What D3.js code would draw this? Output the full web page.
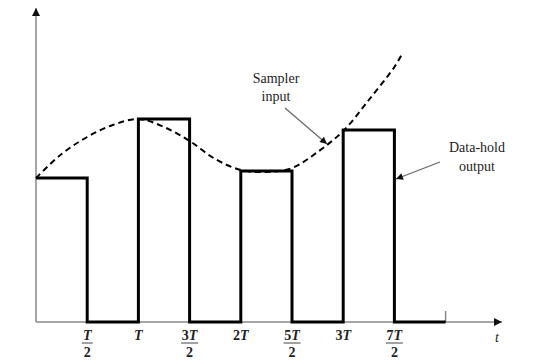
<!DOCTYPE html>
<html>
<head>
<meta charset="utf-8">
<script src="https://cdn.jsdelivr.net/npm/d3@7"></script>
<style>
  body { margin: 0; background: #fff; }
  text { font-family: "Liberation Serif", "DejaVu Serif", serif; }
</style>
</head>
<body>
<div id="chart"></div>
<script>
// held sample values (one per period T), shown for half a period
var sampleTimes = [0, 1, 2, 3];
var heldValues = [1.44, 2.03, 1.51, 1.92];

// sampler input (dashed curve), t in units of T
var inputTimes = [0, 0.25, 0.5, 0.75, 1, 1.25, 1.5, 1.75, 2, 2.25, 2.5, 2.75, 3, 3.25, 3.5, 3.58];
var inputValues = [1.44, 1.68, 1.85, 1.97, 2.03, 1.95, 1.81, 1.63, 1.52, 1.50, 1.54, 1.70, 1.91, 2.22, 2.55, 2.69];

// tick labels along t
var tickTimes = [0.5, 1, 1.5, 2, 2.5, 3, 3.5];
var tickNums = ["", "", "3", "2", "5", "3", "7"];
var tickDens = ["2", "", "2", "", "2", "", "2"];

var svgWidth = 558, svgHeight = 364;

var svg = d3.select("#chart").append("svg")
    .attr("width", svgWidth)
    .attr("height", svgHeight);

// scales
var x = d3.scaleLinear().domain([0, 4]).range([36, 445.6]);
var y = d3.scaleLinear().domain([0, 3.14]).range([322, 8]);

// arrowhead markers
var defs = svg.append("defs");
defs.append("marker")
    .attr("id", "axisHead")
    .attr("viewBox", "0 0 10 10")
    .attr("refX", 10).attr("refY", 5)
    .attr("markerWidth", 10).attr("markerHeight", 8)
    .attr("markerUnits", "userSpaceOnUse")
    .attr("orient", "auto")
    .append("path").attr("d", "M0,0 L10,5 L0,10 Z").attr("fill", "#111");
defs.append("marker")
    .attr("id", "noteHead")
    .attr("viewBox", "0 0 10 10")
    .attr("refX", 10).attr("refY", 5)
    .attr("markerWidth", 9).attr("markerHeight", 7)
    .attr("markerUnits", "userSpaceOnUse")
    .attr("orient", "auto")
    .append("path").attr("d", "M0,0 L10,5 L0,10 Z").attr("fill", "#111");

// axes
svg.append("line")
    .attr("x1", x(0)).attr("y1", y(0))
    .attr("x2", 502).attr("y2", y(0))
    .attr("stroke", "#888").attr("stroke-width", 1.5)
    .attr("marker-end", "url(#axisHead)");
svg.append("line")
    .attr("x1", x(0)).attr("y1", y(0))
    .attr("x2", x(0)).attr("y2", 8)
    .attr("stroke", "#888").attr("stroke-width", 1.5)
    .attr("marker-end", "url(#axisHead)");

// small tick at 4T
svg.append("line")
    .attr("x1", x(4)).attr("y1", y(0))
    .attr("x2", x(4)).attr("y2", y(0) - 11)
    .attr("stroke", "#888").attr("stroke-width", 1.5);

// data-hold output: hold for T/2, then zero until next sample
var holdPts = [];
sampleTimes.forEach(function (t, i) {
    if (i > 0) holdPts.push([t, 0]);
    holdPts.push([t, heldValues[i]]);
    holdPts.push([t + 0.5, heldValues[i]]);
    holdPts.push([t + 0.5, 0]);
});
holdPts.push([4, 0]);

svg.append("path")
    .datum(holdPts)
    .attr("d", d3.line().x(d => x(d[0])).y(d => y(d[1])))
    .attr("fill", "none")
    .attr("stroke", "#000")
    .attr("stroke-width", 3)
    .attr("stroke-linejoin", "miter");

// sampler input dashed curve
var curvePts = inputTimes.map((t, i) => [t, inputValues[i]]);
svg.append("path")
    .datum(curvePts)
    .attr("d", d3.line().x(d => x(d[0])).y(d => y(d[1])).curve(d3.curveCatmullRom))
    .attr("fill", "none")
    .attr("stroke", "#000")
    .attr("stroke-width", 2)
    .attr("stroke-dasharray", "6,4");

// tick labels
var labels = svg.append("g")
    .attr("font-size", "14px")
    .attr("font-weight", "bold")
    .attr("fill", "#222")
    .attr("text-anchor", "middle");

tickTimes.forEach(function (t, i) {
    var tx = x(t);
    var num = labels.append("text")
        .attr("x", tx)
        .attr("y", 340);
    if (tickNums[i]) num.append("tspan").text(tickNums[i]);
    num.append("tspan").attr("font-style", "italic").text("T");
    if (tickDens[i]) {
        var w = tickNums[i] ? 17 : 11;
        labels.append("line")
            .attr("x1", tx - w / 2).attr("x2", tx + w / 2)
            .attr("y1", 343).attr("y2", 343)
            .attr("stroke", "#444").attr("stroke-width", 1);
        labels.append("text")
            .attr("x", tx)
            .attr("y", 357)
            .text(tickDens[i]);
    }
});

// axis name
svg.append("text")
    .attr("x", 497).attr("y", 342)
    .attr("font-size", "14px")
    .attr("font-style", "italic")
    .attr("fill", "#222")
    .attr("text-anchor", "middle")
    .text("t");

// annotations
var notes = svg.append("g")
    .attr("font-size", "14px")
    .attr("fill", "#222")
    .attr("text-anchor", "middle");

notes.append("text").attr("x", 276).attr("y", 83).text("Sampler");
notes.append("text").attr("x", 276).attr("y", 101).text("input");
svg.append("line")
    .attr("x1", 285).attr("y1", 108)
    .attr("x2", 327).attr("y2", 144)
    .attr("stroke", "#666").attr("stroke-width", 1.2)
    .attr("marker-end", "url(#noteHead)");

notes.append("text").attr("x", 477).attr("y", 152).text("Data-hold");
notes.append("text").attr("x", 477).attr("y", 171).text("output");
svg.append("line")
    .attr("x1", 440).attr("y1", 162)
    .attr("x2", 396).attr("y2", 179)
    .attr("stroke", "#666").attr("stroke-width", 1.2)
    .attr("marker-end", "url(#noteHead)");
</script>
</body>
</html>
